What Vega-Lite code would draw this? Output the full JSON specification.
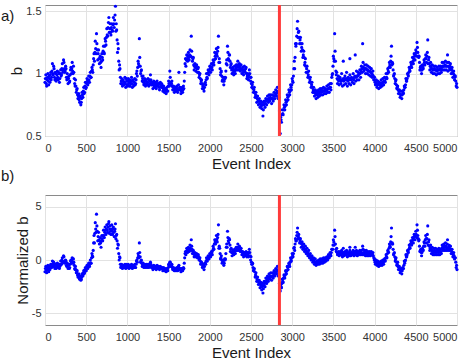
{
"$schema": "https://vega.github.io/schema/vega-lite/v6.json",
"padding": {"left": 0, "top": 3, "right": 0, "bottom": 0},
"spacing": -4,
"config": {
 "font": "Liberation Sans",
 "view": {"stroke": "#8a8a8a", "strokeWidth": 1},
 "axis": {"domain": false, "grid": true, "gridColor": "#e2e2e2", "ticks": false, "labelFontSize": 11, "labelColor": "#333333", "titleFontSize": 15, "titleFontWeight": "normal", "titleColor": "#1a1a1a", "labelFont": "Liberation Sans", "titleFont": "Liberation Sans"},
 "title": {"fontSize": 15, "fontWeight": "normal", "color": "#1a1a1a", "font": "Liberation Sans"}
},
"data": {"values": [
{"i":0,"b":0.93,"n":-1.1},{"i":10,"b":0.99,"n":-0.6},{"i":20,"b":0.90,"n":-1.2},{"i":30,"b":0.97,"n":-0.7},{"i":40,"b":0.94,"n":-0.9},{"i":50,"b":0.98,"n":-0.6},{"i":60,"b":0.93,"n":-0.9},{"i":70,"b":1.01,"n":-0.4},{"i":80,"b":0.97,"n":-0.7},{"i":90,"b":1.08,"n":-0.1},
{"i":100,"b":0.99,"n":-0.6},{"i":110,"b":1.04,"n":-0.3},{"i":120,"b":0.95,"n":-0.8},{"i":130,"b":1.00,"n":-0.4},{"i":140,"b":0.96,"n":-0.7},{"i":150,"b":1.02,"n":-0.3},{"i":160,"b":0.95,"n":-0.7},{"i":170,"b":1.00,"n":-0.4},{"i":180,"b":0.96,"n":-0.6},{"i":190,"b":1.03,"n":-0.1},
{"i":200,"b":0.99,"n":-0.4},{"i":210,"b":1.08,"n":0.2},{"i":220,"b":1.03,"n":-0.2},{"i":230,"b":1.09,"n":0.3},{"i":240,"b":1.01,"n":-0.3},{"i":250,"b":1.06,"n":0.0},{"i":260,"b":0.97,"n":-0.5},{"i":270,"b":1.00,"n":-0.3},{"i":280,"b":0.92,"n":-0.8},{"i":290,"b":0.98,"n":-0.4},
{"i":300,"b":0.94,"n":-0.7},{"i":310,"b":1.03,"n":-0.1},{"i":320,"b":1.00,"n":-0.3},{"i":330,"b":1.09,"n":0.2},{"i":340,"b":1.00,"n":-0.3},{"i":350,"b":1.01,"n":-0.2},{"i":360,"b":0.92,"n":-0.8},{"i":370,"b":0.95,"n":-0.6},{"i":380,"b":0.85,"n":-1.2},{"i":390,"b":0.88,"n":-1.0},
{"i":400,"b":0.80,"n":-1.6},{"i":410,"b":0.84,"n":-1.3},{"i":420,"b":0.77,"n":-1.8},{"i":430,"b":0.82,"n":-1.5},{"i":440,"b":0.77,"n":-1.8},{"i":450,"b":0.85,"n":-1.3},{"i":460,"b":0.81,"n":-1.5},{"i":470,"b":0.89,"n":-1.0},{"i":480,"b":0.85,"n":-1.2},{"i":490,"b":0.93,"n":-0.7},
{"i":500,"b":0.89,"n":-1.0},{"i":510,"b":0.96,"n":-0.5},{"i":520,"b":0.91,"n":-0.8},{"i":530,"b":0.98,"n":-0.3},{"i":540,"b":0.93,"n":-0.6},{"i":550,"b":1.01,"n":0.0},{"i":560,"b":0.97,"n":-0.3},{"i":570,"b":1.05,"n":0.6},{"i":580,"b":1.01,"n":0.3},{"i":590,"b":1.12,"n":1.6},
{"i":600,"b":1.10,"n":1.6},{"i":610,"b":1.26,"n":3.5},{"i":620,"b":1.16,"n":2.6},{"i":630,"b":1.24,"n":3.2},{"i":640,"b":1.11,"n":1.8},{"i":650,"b":1.19,"n":2.6},{"i":660,"b":1.08,"n":1.5},{"i":670,"b":1.14,"n":2.1},{"i":680,"b":1.05,"n":1.2},{"i":690,"b":1.16,"n":2.3},
{"i":700,"b":1.11,"n":1.8},{"i":710,"b":1.22,"n":2.8},{"i":720,"b":1.16,"n":2.1},{"i":730,"b":1.28,"n":3.1},{"i":740,"b":1.23,"n":2.4},{"i":750,"b":1.36,"n":3.3},{"i":760,"b":1.30,"n":2.6},{"i":770,"b":1.41,"n":3.4},{"i":780,"b":1.33,"n":2.5},{"i":790,"b":1.40,"n":3.2},
{"i":800,"b":1.31,"n":2.4},{"i":810,"b":1.40,"n":3.3},{"i":820,"b":1.34,"n":2.4},{"i":830,"b":1.45,"n":3.1},{"i":840,"b":1.37,"n":2.2},{"i":850,"b":1.47,"n":2.9},{"i":860,"b":1.34,"n":2.0},{"i":870,"b":1.35,"n":2.4},{"i":880,"b":1.17,"n":1.1},{"i":890,"b":1.20,"n":1.4},
{"i":900,"b":1.03,"n":0.0},{"i":910,"b":1.04,"n":0.2},{"i":920,"b":0.92,"n":-0.7},{"i":930,"b":0.96,"n":-0.4},{"i":940,"b":0.90,"n":-0.8},{"i":950,"b":0.95,"n":-0.5},{"i":960,"b":0.91,"n":-0.7},{"i":970,"b":0.97,"n":-0.4},{"i":980,"b":0.89,"n":-0.8},{"i":990,"b":0.94,"n":-0.5},
{"i":1000,"b":0.91,"n":-0.7},{"i":1010,"b":0.96,"n":-0.4},{"i":1020,"b":0.90,"n":-0.8},{"i":1030,"b":0.95,"n":-0.5},{"i":1040,"b":0.92,"n":-0.7},{"i":1050,"b":0.97,"n":-0.4},{"i":1060,"b":0.89,"n":-0.8},{"i":1070,"b":0.94,"n":-0.5},{"i":1080,"b":0.91,"n":-0.7},{"i":1090,"b":0.96,"n":-0.4},
{"i":1100,"b":0.92,"n":-0.7},{"i":1110,"b":1.00,"n":-0.1},{"i":1120,"b":0.98,"n":-0.2},{"i":1130,"b":1.10,"n":0.6},{"i":1140,"b":1.06,"n":0.2},{"i":1150,"b":1.13,"n":0.7},{"i":1160,"b":1.00,"n":-0.2},{"i":1170,"b":1.03,"n":0.0},{"i":1180,"b":0.94,"n":-0.6},{"i":1190,"b":0.98,"n":-0.3},
{"i":1200,"b":0.91,"n":-0.7},{"i":1210,"b":0.96,"n":-0.4},{"i":1220,"b":0.90,"n":-0.7},{"i":1230,"b":0.95,"n":-0.4},{"i":1240,"b":0.91,"n":-0.7},{"i":1250,"b":0.96,"n":-0.4},{"i":1260,"b":0.90,"n":-0.7},{"i":1270,"b":0.94,"n":-0.5},{"i":1280,"b":0.99,"n":-0.2},{"i":1290,"b":0.91,"n":-0.7},
{"i":1300,"b":0.93,"n":-0.6},{"i":1310,"b":0.88,"n":-0.9},{"i":1320,"b":0.94,"n":-0.5},{"i":1330,"b":0.89,"n":-0.8},{"i":1340,"b":0.93,"n":-0.6},{"i":1350,"b":0.88,"n":-0.9},{"i":1360,"b":0.94,"n":-0.5},{"i":1370,"b":0.90,"n":-0.8},{"i":1380,"b":0.92,"n":-0.6},{"i":1390,"b":0.87,"n":-0.9},
{"i":1400,"b":0.93,"n":-0.6},{"i":1410,"b":0.89,"n":-0.8},{"i":1420,"b":0.91,"n":-0.7},{"i":1430,"b":0.86,"n":-1.0},{"i":1440,"b":0.90,"n":-0.7},{"i":1450,"b":0.85,"n":-1.0},{"i":1460,"b":0.88,"n":-0.8},{"i":1470,"b":0.84,"n":-1.1},{"i":1480,"b":0.89,"n":-0.8},{"i":1490,"b":0.86,"n":-1.0},
{"i":1500,"b":0.94,"n":-0.4},{"i":1510,"b":0.90,"n":-0.6},{"i":1520,"b":0.97,"n":-0.2},{"i":1530,"b":0.91,"n":-0.6},{"i":1540,"b":0.94,"n":-0.4},{"i":1550,"b":0.87,"n":-0.9},{"i":1560,"b":0.90,"n":-0.7},{"i":1570,"b":0.85,"n":-1.0},{"i":1580,"b":0.89,"n":-0.8},{"i":1590,"b":0.86,"n":-1.0},
{"i":1600,"b":0.90,"n":-0.7},{"i":1610,"b":0.85,"n":-1.0},{"i":1620,"b":0.91,"n":-0.6},{"i":1630,"b":0.87,"n":-0.9},{"i":1640,"b":0.89,"n":-0.8},{"i":1650,"b":0.84,"n":-1.1},{"i":1660,"b":0.88,"n":-0.8},{"i":1670,"b":0.85,"n":-1.0},{"i":1680,"b":0.90,"n":-0.7},{"i":1690,"b":0.94,"n":-0.3},
{"i":1700,"b":1.08,"n":0.6},{"i":1710,"b":1.06,"n":0.5},{"i":1720,"b":1.15,"n":1.1},{"i":1730,"b":1.10,"n":0.7},{"i":1740,"b":1.17,"n":1.2},{"i":1750,"b":1.11,"n":0.8},{"i":1760,"b":1.19,"n":1.4},{"i":1770,"b":1.14,"n":0.9},{"i":1780,"b":1.18,"n":1.3},{"i":1790,"b":1.10,"n":0.6},
{"i":1800,"b":1.13,"n":0.9},{"i":1810,"b":1.03,"n":0.3},{"i":1820,"b":1.08,"n":0.7},{"i":1830,"b":1.02,"n":0.3},{"i":1840,"b":1.07,"n":0.6},{"i":1850,"b":1.01,"n":0.2},{"i":1860,"b":1.05,"n":0.5},{"i":1870,"b":0.97,"n":0.0},{"i":1880,"b":1.00,"n":0.2},{"i":1890,"b":0.92,"n":-0.4},
{"i":1900,"b":0.95,"n":-0.2},{"i":1910,"b":0.88,"n":-0.7},{"i":1920,"b":0.91,"n":-0.4},{"i":1930,"b":0.86,"n":-0.9},{"i":1940,"b":0.92,"n":-0.3},{"i":1950,"b":0.91,"n":-0.4},{"i":1960,"b":1.00,"n":0.2},{"i":1970,"b":0.96,"n":-0.1},{"i":1980,"b":1.03,"n":0.4},{"i":1990,"b":0.99,"n":0.1},
{"i":2000,"b":1.06,"n":0.6},{"i":2010,"b":1.01,"n":0.3},{"i":2020,"b":1.08,"n":0.8},{"i":2030,"b":1.03,"n":0.5},{"i":2040,"b":1.11,"n":1.3},{"i":2050,"b":1.07,"n":1.0},{"i":2060,"b":1.17,"n":1.9},{"i":2070,"b":1.12,"n":1.5},{"i":2080,"b":1.20,"n":2.3},{"i":2090,"b":1.14,"n":1.7},
{"i":2100,"b":1.21,"n":2.4},{"i":2110,"b":1.09,"n":1.1},{"i":2120,"b":1.09,"n":1.1},{"i":2130,"b":0.99,"n":0.1},{"i":2140,"b":1.02,"n":0.4},{"i":2150,"b":0.94,"n":-0.3},{"i":2160,"b":0.97,"n":0.0},{"i":2170,"b":0.91,"n":-0.5},{"i":2180,"b":0.97,"n":0.1},{"i":2190,"b":0.97,"n":0.1},
{"i":2200,"b":1.08,"n":1.2},{"i":2210,"b":1.07,"n":1.2},{"i":2220,"b":1.17,"n":2.1},{"i":2230,"b":1.11,"n":1.6},{"i":2240,"b":1.15,"n":1.9},{"i":2250,"b":1.05,"n":0.8},{"i":2260,"b":1.08,"n":1.1},{"i":2270,"b":1.00,"n":0.4},{"i":2280,"b":1.05,"n":0.9},{"i":2290,"b":0.99,"n":0.5},
{"i":2300,"b":1.06,"n":1.0},{"i":2310,"b":1.00,"n":0.6},{"i":2320,"b":1.07,"n":1.2},{"i":2330,"b":1.03,"n":0.9},{"i":2340,"b":1.10,"n":1.5},{"i":2350,"b":1.03,"n":0.9},{"i":2360,"b":1.08,"n":1.3},{"i":2370,"b":1.02,"n":0.8},{"i":2380,"b":1.07,"n":1.1},{"i":2390,"b":1.00,"n":0.5},
{"i":2400,"b":1.05,"n":0.8},{"i":2410,"b":0.99,"n":0.3},{"i":2420,"b":1.06,"n":0.7},{"i":2430,"b":1.01,"n":0.4},{"i":2440,"b":1.05,"n":0.8},{"i":2450,"b":0.96,"n":0.3},{"i":2460,"b":1.00,"n":0.7},{"i":2470,"b":0.95,"n":0.3},{"i":2480,"b":1.03,"n":1.0},{"i":2490,"b":0.97,"n":0.4},
{"i":2500,"b":0.97,"n":0.3},{"i":2510,"b":0.89,"n":-0.4},{"i":2520,"b":0.93,"n":-0.3},{"i":2530,"b":0.85,"n":-1.0},{"i":2540,"b":0.89,"n":-0.8},{"i":2550,"b":0.81,"n":-1.6},{"i":2560,"b":0.85,"n":-1.2},{"i":2570,"b":0.77,"n":-2.0},{"i":2580,"b":0.82,"n":-1.6},{"i":2590,"b":0.75,"n":-2.3},
{"i":2600,"b":0.80,"n":-1.9},{"i":2610,"b":0.73,"n":-2.6},{"i":2620,"b":0.78,"n":-2.1},{"i":2630,"b":0.72,"n":-2.8},{"i":2640,"b":0.77,"n":-2.2},{"i":2650,"b":0.71,"n":-2.7},{"i":2660,"b":0.78,"n":-2.0},{"i":2670,"b":0.73,"n":-2.5},{"i":2680,"b":0.80,"n":-1.7},{"i":2690,"b":0.75,"n":-2.2},
{"i":2700,"b":0.82,"n":-1.5},{"i":2710,"b":0.77,"n":-2.0},{"i":2720,"b":0.83,"n":-1.3},{"i":2730,"b":0.78,"n":-1.8},{"i":2740,"b":0.83,"n":-1.2},{"i":2750,"b":0.76,"n":-1.9},{"i":2760,"b":0.83,"n":-1.2},{"i":2770,"b":0.78,"n":-1.7},{"i":2780,"b":0.85,"n":-1.0},{"i":2790,"b":0.80,"n":-1.5},
{"i":2800,"b":0.87,"n":-0.8},{"i":2810,"b":0.82,"n":-1.3},{"i":2820,"b":0.89,"n":-0.6},{"i":2830,"b":0.80,"n":-1.5},{"i":2840,"b":0.81,"n":-1.4},{"i":2850,"b":0.62,"n":-2.7},{"i":2860,"b":0.65,"n":-2.3},{"i":2870,"b":0.61,"n":-2.6},{"i":2880,"b":0.71,"n":-1.8},{"i":2890,"b":0.67,"n":-2.1},
{"i":2900,"b":0.75,"n":-1.4},{"i":2910,"b":0.71,"n":-1.7},{"i":2920,"b":0.79,"n":-1.0},{"i":2930,"b":0.75,"n":-1.3},{"i":2940,"b":0.83,"n":-0.6},{"i":2950,"b":0.79,"n":-0.9},{"i":2960,"b":0.87,"n":-0.3},{"i":2970,"b":0.83,"n":-0.6},{"i":2980,"b":0.91,"n":0.2},{"i":2990,"b":0.87,"n":-0.1},
{"i":3000,"b":0.96,"n":0.6},{"i":3010,"b":0.93,"n":0.3},{"i":3020,"b":1.04,"n":1.1},{"i":3030,"b":1.04,"n":0.9},{"i":3040,"b":1.24,"n":2.0},{"i":3050,"b":1.24,"n":1.8},{"i":3060,"b":1.36,"n":2.6},{"i":3070,"b":1.29,"n":2.0},{"i":3080,"b":1.34,"n":2.4},{"i":3090,"b":1.24,"n":1.6},
{"i":3100,"b":1.29,"n":2.0},{"i":3110,"b":1.18,"n":1.2},{"i":3120,"b":1.24,"n":1.7},{"i":3130,"b":1.13,"n":1.0},{"i":3140,"b":1.18,"n":1.5},{"i":3150,"b":1.07,"n":0.8},{"i":3160,"b":1.12,"n":1.3},{"i":3170,"b":1.01,"n":0.6},{"i":3180,"b":1.06,"n":1.1},{"i":3190,"b":0.97,"n":0.4},
{"i":3200,"b":1.02,"n":0.9},{"i":3210,"b":0.93,"n":0.2},{"i":3220,"b":0.97,"n":0.6},{"i":3230,"b":0.89,"n":0.0},{"i":3240,"b":0.93,"n":0.4},{"i":3250,"b":0.85,"n":-0.2},{"i":3260,"b":0.89,"n":0.2},{"i":3270,"b":0.82,"n":-0.4},{"i":3280,"b":0.87,"n":0.1},{"i":3290,"b":0.80,"n":-0.5},
{"i":3300,"b":0.86,"n":-0.1},{"i":3310,"b":0.81,"n":-0.4},{"i":3320,"b":0.87,"n":0.0},{"i":3330,"b":0.82,"n":-0.4},{"i":3340,"b":0.88,"n":0.1},{"i":3350,"b":0.83,"n":-0.3},{"i":3360,"b":0.88,"n":0.1},{"i":3370,"b":0.83,"n":-0.3},{"i":3380,"b":0.89,"n":0.2},{"i":3390,"b":0.84,"n":-0.2},
{"i":3400,"b":0.88,"n":0.2},{"i":3410,"b":0.84,"n":-0.1},{"i":3420,"b":0.90,"n":0.3},{"i":3430,"b":0.85,"n":0.0},{"i":3440,"b":0.91,"n":0.5},{"i":3450,"b":0.85,"n":0.2},{"i":3460,"b":0.92,"n":0.7},{"i":3470,"b":0.87,"n":0.4},{"i":3480,"b":0.97,"n":1.0},{"i":3490,"b":1.00,"n":1.0},
{"i":3500,"b":1.14,"n":1.9},{"i":3510,"b":1.10,"n":1.4},{"i":3520,"b":1.18,"n":2.2},{"i":3530,"b":1.02,"n":1.0},{"i":3540,"b":1.01,"n":1.1},{"i":3550,"b":0.92,"n":0.5},{"i":3560,"b":0.98,"n":0.8},{"i":3570,"b":0.91,"n":0.4},{"i":3580,"b":0.97,"n":0.8},{"i":3590,"b":0.92,"n":0.5},
{"i":3600,"b":1.00,"n":0.9},{"i":3610,"b":0.90,"n":0.3},{"i":3620,"b":0.96,"n":0.7},{"i":3630,"b":0.91,"n":0.4},{"i":3640,"b":0.98,"n":0.8},{"i":3650,"b":0.92,"n":0.5},{"i":3660,"b":1.01,"n":0.9},{"i":3670,"b":0.90,"n":0.3},{"i":3680,"b":0.97,"n":0.7},{"i":3690,"b":0.92,"n":0.4},
{"i":3700,"b":0.99,"n":0.9},{"i":3710,"b":0.91,"n":0.4},{"i":3720,"b":0.97,"n":0.7},{"i":3730,"b":0.93,"n":0.5},{"i":3740,"b":1.00,"n":0.9},{"i":3750,"b":0.92,"n":0.4},{"i":3760,"b":0.98,"n":0.8},{"i":3770,"b":0.94,"n":0.5},{"i":3780,"b":1.02,"n":0.9},{"i":3790,"b":0.95,"n":0.4},
{"i":3800,"b":1.01,"n":0.8},{"i":3810,"b":0.95,"n":0.5},{"i":3820,"b":1.03,"n":0.9},{"i":3830,"b":0.97,"n":0.5},{"i":3840,"b":1.06,"n":0.9},{"i":3850,"b":1.01,"n":0.5},{"i":3860,"b":1.09,"n":1.0},{"i":3870,"b":1.02,"n":0.5},{"i":3880,"b":1.07,"n":0.9},{"i":3890,"b":1.00,"n":0.4},
{"i":3900,"b":1.07,"n":0.9},{"i":3910,"b":1.00,"n":0.4},{"i":3920,"b":1.06,"n":0.8},{"i":3930,"b":0.99,"n":0.4},{"i":3940,"b":1.05,"n":0.8},{"i":3950,"b":0.98,"n":0.4},{"i":3960,"b":1.04,"n":0.8},{"i":3970,"b":0.97,"n":0.5},{"i":3980,"b":1.02,"n":0.7},{"i":3990,"b":0.95,"n":0.2},
{"i":4000,"b":0.97,"n":0.1},{"i":4010,"b":0.91,"n":-0.4},{"i":4020,"b":0.95,"n":0.0},{"i":4030,"b":0.89,"n":-0.5},{"i":4040,"b":0.94,"n":-0.1},{"i":4050,"b":0.88,"n":-0.6},{"i":4060,"b":0.93,"n":-0.2},{"i":4070,"b":0.89,"n":-0.5},{"i":4080,"b":0.95,"n":-0.1},{"i":4090,"b":0.90,"n":-0.5},
{"i":4100,"b":0.96,"n":0.0},{"i":4110,"b":0.91,"n":-0.4},{"i":4120,"b":0.97,"n":0.1},{"i":4130,"b":0.93,"n":-0.1},{"i":4140,"b":1.00,"n":0.5},{"i":4150,"b":0.96,"n":0.2},{"i":4160,"b":1.04,"n":0.9},{"i":4170,"b":1.01,"n":0.7},{"i":4180,"b":1.09,"n":1.5},{"i":4190,"b":1.05,"n":1.2},
{"i":4200,"b":1.14,"n":2.2},{"i":4210,"b":1.07,"n":1.5},{"i":4220,"b":1.08,"n":1.5},{"i":4230,"b":0.98,"n":0.5},{"i":4240,"b":1.00,"n":0.7},{"i":4250,"b":0.92,"n":-0.1},{"i":4260,"b":0.95,"n":0.2},{"i":4270,"b":0.88,"n":-0.5},{"i":4280,"b":0.90,"n":-0.2},{"i":4290,"b":0.84,"n":-0.9},
{"i":4300,"b":0.87,"n":-0.6},{"i":4310,"b":0.81,"n":-1.2},{"i":4320,"b":0.86,"n":-0.8},{"i":4330,"b":0.80,"n":-1.3},{"i":4340,"b":0.86,"n":-0.7},{"i":4350,"b":0.84,"n":-0.8},{"i":4360,"b":0.90,"n":-0.1},{"i":4370,"b":0.89,"n":-0.1},{"i":4380,"b":0.96,"n":0.5},{"i":4390,"b":0.94,"n":0.3},
{"i":4400,"b":1.00,"n":0.9},{"i":4410,"b":0.98,"n":0.7},{"i":4420,"b":1.05,"n":1.4},{"i":4430,"b":1.02,"n":1.1},{"i":4440,"b":1.09,"n":1.8},{"i":4450,"b":1.05,"n":1.4},{"i":4460,"b":1.13,"n":2.1},{"i":4470,"b":1.08,"n":1.6},{"i":4480,"b":1.16,"n":2.4},{"i":4490,"b":1.11,"n":1.9},
{"i":4500,"b":1.19,"n":2.7},{"i":4510,"b":1.14,"n":2.1},{"i":4520,"b":1.21,"n":2.8},{"i":4530,"b":1.14,"n":2.0},{"i":4540,"b":1.14,"n":1.9},{"i":4550,"b":1.03,"n":0.8},{"i":4560,"b":1.06,"n":1.0},{"i":4570,"b":1.00,"n":0.4},{"i":4580,"b":1.07,"n":1.1},{"i":4590,"b":1.04,"n":0.9},
{"i":4600,"b":1.11,"n":1.7},{"i":4610,"b":1.07,"n":1.3},{"i":4620,"b":1.15,"n":2.3},{"i":4630,"b":1.09,"n":1.6},{"i":4640,"b":1.17,"n":2.4},{"i":4650,"b":1.08,"n":1.4},{"i":4660,"b":1.13,"n":1.9},{"i":4670,"b":1.03,"n":0.9},{"i":4680,"b":1.09,"n":1.4},{"i":4690,"b":1.01,"n":0.6},
{"i":4700,"b":1.07,"n":1.2},{"i":4710,"b":1.00,"n":0.5},{"i":4720,"b":1.06,"n":1.1},{"i":4730,"b":1.00,"n":0.5},{"i":4740,"b":1.06,"n":1.1},{"i":4750,"b":0.99,"n":0.5},{"i":4760,"b":1.05,"n":1.0},{"i":4770,"b":1.00,"n":0.5},{"i":4780,"b":1.06,"n":1.1},{"i":4790,"b":1.00,"n":0.5},
{"i":4800,"b":1.06,"n":1.0},{"i":4810,"b":1.01,"n":0.6},{"i":4820,"b":1.09,"n":1.4},{"i":4830,"b":1.03,"n":0.9},{"i":4840,"b":1.09,"n":1.5},{"i":4850,"b":1.03,"n":0.9},{"i":4860,"b":1.10,"n":1.6},{"i":4870,"b":1.03,"n":0.9},{"i":4880,"b":1.09,"n":1.5},{"i":4890,"b":1.02,"n":0.9},
{"i":4900,"b":1.09,"n":1.4},{"i":4910,"b":1.03,"n":0.9},{"i":4920,"b":1.08,"n":1.3},{"i":4930,"b":1.00,"n":0.6},{"i":4940,"b":1.05,"n":1.0},{"i":4950,"b":0.97,"n":0.3},{"i":4960,"b":1.02,"n":0.7},{"i":4970,"b":0.95,"n":0.1},{"i":4980,"b":0.98,"n":0.2},{"i":4990,"b":0.90,"n":-0.7},
{"i":5000,"b":0.89,"n":-0.9},
{"i":625,"b":1.32,"n":4.3},{"i":855,"b":1.54,"n":3.4},{"i":775,"b":1.45,"n":3.6},{"i":1145,"b":1.28,"n":1.6},{"i":1775,"b":1.30,"n":1.9},{"i":2105,"b":1.30,"n":3.3},{"i":2215,"b":1.22,"n":2.7},{"i":3065,"b":1.42,"n":3.0},{"i":3515,"b":1.32,"n":2.8},{"i":3855,"b":1.24,"n":1.3},{"i":4205,"b":1.22,"n":3.0},{"i":4515,"b":1.25,"n":3.3},{"i":4645,"b":1.27,"n":3.2},{"i":2645,"b":0.66,"n":-3.1},{"i":2855,"b":0.52,"n":-2.9},{"i":435,"b":0.75,"n":-1.9},{"i":1625,"b":1.01,"n":-0.5},{"i":1515,"b":1.02,"n":-0.2},{"i":3700,"b":1.12,"n":1.2},{"i":3620,"b":1.10,"n":1.1},{"i":3765,"b":1.15,"n":1.2},{"i":4885,"b":1.15,"n":1.9},
{"i":5,"b":0.96,"n":-0.8},{"i":15,"b":0.92,"n":-1.0},{"i":25,"b":0.95,"n":-0.9},{"i":35,"b":1.00,"n":-0.5},{"i":45,"b":0.91,"n":-1.1},{"i":55,"b":0.96,"n":-0.8},{"i":65,"b":0.99,"n":-0.6},{"i":75,"b":0.95,"n":-0.7},{"i":85,"b":1.02,"n":-0.4},{"i":95,"b":1.00,"n":-0.5},
{"i":105,"b":1.06,"n":-0.2},{"i":115,"b":0.97,"n":-0.6},{"i":125,"b":1.01,"n":-0.4},{"i":135,"b":0.94,"n":-0.8},{"i":145,"b":0.99,"n":-0.5},{"i":155,"b":0.97,"n":-0.6},{"i":165,"b":1.01,"n":-0.4},{"i":175,"b":0.93,"n":-0.8},{"i":185,"b":1.00,"n":-0.5},{"i":195,"b":0.98,"n":-0.4},
{"i":205,"b":1.04,"n":0.0},{"i":215,"b":1.01,"n":-0.2},{"i":225,"b":1.11,"n":0.4},{"i":235,"b":1.04,"n":-0.1},{"i":245,"b":1.02,"n":-0.2},{"i":255,"b":1.04,"n":-0.1},{"i":265,"b":0.95,"n":-0.6},{"i":275,"b":0.97,"n":-0.5},{"i":285,"b":0.96,"n":-0.5},{"i":295,"b":0.93,"n":-0.8},
{"i":305,"b":0.99,"n":-0.4},{"i":315,"b":1.05,"n":0.0},{"i":325,"b":1.04,"n":-0.1},{"i":335,"b":1.02,"n":-0.2},{"i":345,"b":1.06,"n":0.1},{"i":355,"b":0.96,"n":-0.5},{"i":365,"b":0.90,"n":-0.9},{"i":375,"b":0.90,"n":-0.9},{"i":385,"b":0.87,"n":-1.1},{"i":395,"b":0.83,"n":-1.4},
{"i":405,"b":0.82,"n":-1.4},{"i":415,"b":0.79,"n":-1.7},{"i":425,"b":0.81,"n":-1.5},{"i":445,"b":0.80,"n":-1.6},{"i":455,"b":0.83,"n":-1.4},{"i":465,"b":0.86,"n":-1.2},{"i":475,"b":0.84,"n":-1.3},{"i":485,"b":0.90,"n":-0.9},{"i":495,"b":0.88,"n":-1.0},
{"i":505,"b":0.92,"n":-0.7},{"i":515,"b":0.94,"n":-0.6},{"i":525,"b":0.93,"n":-0.6},{"i":535,"b":0.95,"n":-0.5},{"i":545,"b":0.98,"n":-0.3},{"i":555,"b":0.97,"n":-0.3},{"i":565,"b":1.02,"n":0.2},{"i":575,"b":1.03,"n":0.4},{"i":585,"b":1.07,"n":0.9},{"i":595,"b":1.16,"n":2.3},
{"i":605,"b":1.17,"n":2.5},{"i":615,"b":1.20,"n":2.9},{"i":635,"b":1.19,"n":2.7},{"i":645,"b":1.16,"n":2.2},{"i":655,"b":1.12,"n":1.9},{"i":665,"b":1.12,"n":1.8},{"i":675,"b":1.09,"n":1.6},{"i":685,"b":1.10,"n":1.8},{"i":695,"b":1.13,"n":2.0},
{"i":705,"b":1.18,"n":2.3},{"i":715,"b":1.17,"n":2.3},{"i":725,"b":1.22,"n":2.6},{"i":735,"b":1.26,"n":2.8},{"i":745,"b":1.29,"n":2.9},{"i":755,"b":1.31,"n":2.8},{"i":765,"b":1.37,"n":3.1},{"i":785,"b":1.36,"n":2.9},{"i":795,"b":1.33,"n":2.7},
{"i":805,"b":1.37,"n":2.9},{"i":815,"b":1.35,"n":2.7},{"i":825,"b":1.39,"n":2.9},{"i":835,"b":1.40,"n":2.6},{"i":845,"b":1.43,"n":2.7},{"i":865,"b":1.40,"n":2.3},{"i":875,"b":1.27,"n":1.8},{"i":885,"b":1.24,"n":1.5},{"i":895,"b":1.10,"n":0.6},
{"i":905,"b":1.07,"n":0.3},{"i":915,"b":0.97,"n":-0.4},{"i":925,"b":0.94,"n":-0.6},{"i":935,"b":0.92,"n":-0.6},{"i":945,"b":0.94,"n":-0.5},{"i":955,"b":0.91,"n":-0.7},{"i":965,"b":0.93,"n":-0.6},{"i":975,"b":0.92,"n":-0.6},{"i":985,"b":0.96,"n":-0.4},{"i":995,"b":0.90,"n":-0.7},
{"i":1005,"b":0.94,"n":-0.5},{"i":1015,"b":0.92,"n":-0.7},{"i":1025,"b":0.93,"n":-0.6},{"i":1035,"b":0.90,"n":-0.7},{"i":1045,"b":0.94,"n":-0.5},{"i":1055,"b":0.92,"n":-0.6},{"i":1065,"b":0.95,"n":-0.5},{"i":1075,"b":0.90,"n":-0.7},{"i":1085,"b":0.93,"n":-0.6},{"i":1095,"b":0.91,"n":-0.7},
{"i":1105,"b":0.95,"n":-0.4},{"i":1115,"b":1.02,"n":0.0},{"i":1125,"b":1.05,"n":0.2},{"i":1135,"b":1.08,"n":0.4},{"i":1155,"b":1.06,"n":0.3},{"i":1165,"b":1.02,"n":-0.1},{"i":1175,"b":0.98,"n":-0.3},{"i":1185,"b":0.96,"n":-0.4},{"i":1195,"b":0.93,"n":-0.6},
{"i":1205,"b":0.94,"n":-0.5},{"i":1215,"b":0.92,"n":-0.6},{"i":1225,"b":0.94,"n":-0.5},{"i":1235,"b":0.92,"n":-0.6},{"i":1245,"b":0.93,"n":-0.6},{"i":1255,"b":0.91,"n":-0.6},{"i":1265,"b":0.95,"n":-0.4},{"i":1275,"b":0.92,"n":-0.6},{"i":1285,"b":0.95,"n":-0.4},{"i":1295,"b":0.93,"n":-0.6},
{"i":1305,"b":0.91,"n":-0.7},{"i":1315,"b":0.92,"n":-0.7},{"i":1325,"b":0.90,"n":-0.7},{"i":1335,"b":0.92,"n":-0.6},{"i":1345,"b":0.91,"n":-0.7},{"i":1355,"b":0.90,"n":-0.8},{"i":1365,"b":0.92,"n":-0.7},{"i":1375,"b":0.91,"n":-0.7},{"i":1385,"b":0.89,"n":-0.8},{"i":1395,"b":0.92,"n":-0.7},
{"i":1405,"b":0.90,"n":-0.7},{"i":1415,"b":0.92,"n":-0.7},{"i":1425,"b":0.89,"n":-0.8},{"i":1435,"b":0.88,"n":-0.9},{"i":1445,"b":0.87,"n":-0.9},{"i":1455,"b":0.88,"n":-0.9},{"i":1465,"b":0.86,"n":-0.9},{"i":1475,"b":0.87,"n":-0.9},{"i":1485,"b":0.86,"n":-0.9},{"i":1495,"b":0.90,"n":-0.7},
{"i":1505,"b":0.92,"n":-0.5},{"i":1525,"b":0.93,"n":-0.5},{"i":1535,"b":0.92,"n":-0.5},{"i":1545,"b":0.90,"n":-0.7},{"i":1555,"b":0.89,"n":-0.8},{"i":1565,"b":0.87,"n":-0.9},{"i":1575,"b":0.88,"n":-0.9},{"i":1585,"b":0.87,"n":-0.9},{"i":1595,"b":0.88,"n":-0.8},
{"i":1605,"b":0.88,"n":-0.9},{"i":1615,"b":0.87,"n":-0.9},{"i":1635,"b":0.89,"n":-0.8},{"i":1645,"b":0.87,"n":-0.9},{"i":1655,"b":0.86,"n":-1.0},{"i":1665,"b":0.89,"n":-0.8},{"i":1675,"b":0.87,"n":-0.9},{"i":1685,"b":0.88,"n":-0.8},{"i":1695,"b":1.01,"n":0.2},
{"i":1705,"b":1.12,"n":0.8},{"i":1715,"b":1.11,"n":0.8},{"i":1725,"b":1.12,"n":0.9},{"i":1735,"b":1.14,"n":1.0},{"i":1745,"b":1.13,"n":0.9},{"i":1755,"b":1.15,"n":1.0},{"i":1765,"b":1.14,"n":1.1},{"i":1785,"b":1.13,"n":1.0},{"i":1795,"b":1.12,"n":0.8},
{"i":1805,"b":1.07,"n":0.6},{"i":1815,"b":1.06,"n":0.5},{"i":1825,"b":1.05,"n":0.5},{"i":1835,"b":1.05,"n":0.5},{"i":1845,"b":1.04,"n":0.4},{"i":1855,"b":1.04,"n":0.4},{"i":1865,"b":1.01,"n":0.3},{"i":1875,"b":0.99,"n":0.1},{"i":1885,"b":0.96,"n":-0.1},{"i":1895,"b":0.94,"n":-0.3},
{"i":1905,"b":0.92,"n":-0.4},{"i":1915,"b":0.90,"n":-0.6},{"i":1925,"b":0.88,"n":-0.6},{"i":1935,"b":0.89,"n":-0.6},{"i":1945,"b":0.93,"n":-0.3},{"i":1955,"b":0.95,"n":-0.1},{"i":1965,"b":0.97,"n":0.0},{"i":1975,"b":1.00,"n":0.2},{"i":1985,"b":1.01,"n":0.3},{"i":1995,"b":1.02,"n":0.3},
{"i":2005,"b":1.04,"n":0.5},{"i":2015,"b":1.05,"n":0.6},{"i":2025,"b":1.05,"n":0.7},{"i":2035,"b":1.07,"n":0.9},{"i":2045,"b":1.09,"n":1.1},{"i":2055,"b":1.11,"n":1.5},{"i":2065,"b":1.14,"n":1.7},{"i":2075,"b":1.16,"n":1.9},{"i":2085,"b":1.16,"n":1.9},{"i":2095,"b":1.18,"n":2.1},
{"i":2115,"b":1.12,"n":1.3},{"i":2125,"b":1.04,"n":0.6},{"i":2135,"b":1.01,"n":0.2},{"i":2145,"b":0.98,"n":0.0},{"i":2155,"b":0.95,"n":-0.2},{"i":2165,"b":0.94,"n":-0.2},{"i":2175,"b":0.94,"n":-0.3},{"i":2185,"b":0.96,"n":0.0},{"i":2195,"b":1.02,"n":0.6},
{"i":2205,"b":1.11,"n":1.5},{"i":2225,"b":1.12,"n":1.8},{"i":2235,"b":1.15,"n":2.0},{"i":2245,"b":1.10,"n":1.4},{"i":2255,"b":1.07,"n":1.0},{"i":2265,"b":1.03,"n":0.7},{"i":2275,"b":1.04,"n":0.7},{"i":2285,"b":1.01,"n":0.6},{"i":2295,"b":1.03,"n":0.8},
{"i":2305,"b":1.02,"n":0.8},{"i":2315,"b":1.04,"n":0.9},{"i":2325,"b":1.05,"n":1.0},{"i":2335,"b":1.07,"n":1.2},{"i":2345,"b":1.06,"n":1.2},{"i":2355,"b":1.05,"n":1.1},{"i":2365,"b":1.06,"n":1.0},{"i":2375,"b":1.04,"n":0.9},{"i":2385,"b":1.03,"n":0.8},{"i":2395,"b":1.03,"n":0.7},
{"i":2405,"b":1.01,"n":0.5},{"i":2415,"b":1.03,"n":0.5},{"i":2425,"b":1.02,"n":0.5},{"i":2435,"b":1.04,"n":0.7},{"i":2445,"b":1.00,"n":0.5},{"i":2455,"b":0.98,"n":0.5},{"i":2465,"b":0.97,"n":0.5},{"i":2475,"b":0.99,"n":0.7},{"i":2485,"b":1.00,"n":0.7},{"i":2495,"b":0.94,"n":0.0},
{"i":2505,"b":0.92,"n":-0.2},{"i":2515,"b":0.91,"n":-0.4},{"i":2525,"b":0.88,"n":-0.7},{"i":2535,"b":0.87,"n":-0.9},{"i":2545,"b":0.85,"n":-1.1},{"i":2555,"b":0.83,"n":-1.4},{"i":2565,"b":0.81,"n":-1.6},{"i":2575,"b":0.80,"n":-1.8},{"i":2585,"b":0.78,"n":-1.9},{"i":2595,"b":0.78,"n":-2.1},
{"i":2605,"b":0.76,"n":-2.2},{"i":2615,"b":0.76,"n":-2.3},{"i":2625,"b":0.74,"n":-2.4},{"i":2635,"b":0.75,"n":-2.5},{"i":2655,"b":0.75,"n":-2.4},{"i":2665,"b":0.76,"n":-2.2},{"i":2675,"b":0.76,"n":-2.1},{"i":2685,"b":0.78,"n":-2.0},{"i":2695,"b":0.79,"n":-1.8},
{"i":2705,"b":0.79,"n":-1.7},{"i":2715,"b":0.80,"n":-1.7},{"i":2725,"b":0.80,"n":-1.6},{"i":2735,"b":0.81,"n":-1.5},{"i":2745,"b":0.80,"n":-1.5},{"i":2755,"b":0.80,"n":-1.6},{"i":2765,"b":0.80,"n":-1.5},{"i":2775,"b":0.82,"n":-1.3},{"i":2785,"b":0.82,"n":-1.3},{"i":2795,"b":0.84,"n":-1.1},
{"i":2805,"b":0.84,"n":-1.1},{"i":2815,"b":0.86,"n":-0.9},{"i":2825,"b":0.85,"n":-1.0},{"i":2835,"b":0.84,"n":-1.1},{"i":2845,"b":0.70,"n":-2.2},{"i":2865,"b":0.63,"n":-2.5},{"i":2875,"b":0.67,"n":-2.2},{"i":2885,"b":0.68,"n":-2.0},{"i":2895,"b":0.71,"n":-1.7},
{"i":2905,"b":0.73,"n":-1.5},{"i":2915,"b":0.74,"n":-1.4},{"i":2925,"b":0.77,"n":-1.1},{"i":2935,"b":0.78,"n":-1.0},{"i":2945,"b":0.81,"n":-0.7},{"i":2955,"b":0.82,"n":-0.6},{"i":2965,"b":0.85,"n":-0.4},{"i":2975,"b":0.86,"n":-0.2},{"i":2985,"b":0.89,"n":0.0},{"i":2995,"b":0.91,"n":0.2},
{"i":3005,"b":0.94,"n":0.4},{"i":3015,"b":0.98,"n":0.6},{"i":3025,"b":1.10,"n":1.2},{"i":3035,"b":1.13,"n":1.5},{"i":3045,"b":1.22,"n":1.8},{"i":3055,"b":1.30,"n":2.3},{"i":3075,"b":1.33,"n":2.2},{"i":3085,"b":1.29,"n":2.0},{"i":3095,"b":1.27,"n":1.8},
{"i":3105,"b":1.24,"n":1.6},{"i":3115,"b":1.21,"n":1.5},{"i":3125,"b":1.19,"n":1.3},{"i":3135,"b":1.15,"n":1.2},{"i":3145,"b":1.13,"n":1.1},{"i":3155,"b":1.09,"n":1.0},{"i":3165,"b":1.06,"n":0.9},{"i":3175,"b":1.04,"n":0.8},{"i":3185,"b":1.01,"n":0.7},{"i":3195,"b":0.99,"n":0.6},
{"i":3205,"b":0.97,"n":0.5},{"i":3215,"b":0.95,"n":0.4},{"i":3225,"b":0.93,"n":0.3},{"i":3235,"b":0.91,"n":0.2},{"i":3245,"b":0.89,"n":0.1},{"i":3255,"b":0.87,"n":0.0},{"i":3265,"b":0.85,"n":-0.1},{"i":3275,"b":0.85,"n":-0.2},{"i":3285,"b":0.83,"n":-0.3},{"i":3295,"b":0.84,"n":-0.3},
{"i":3305,"b":0.83,"n":-0.2},{"i":3315,"b":0.85,"n":-0.2},{"i":3325,"b":0.84,"n":-0.2},{"i":3335,"b":0.85,"n":-0.1},{"i":3345,"b":0.86,"n":-0.1},{"i":3355,"b":0.85,"n":-0.1},{"i":3365,"b":0.86,"n":0.0},{"i":3375,"b":0.86,"n":-0.1},{"i":3385,"b":0.86,"n":0.0},{"i":3395,"b":0.87,"n":0.0},
{"i":3405,"b":0.86,"n":0.1},{"i":3415,"b":0.87,"n":0.1},{"i":3425,"b":0.87,"n":0.1},{"i":3435,"b":0.88,"n":0.3},{"i":3445,"b":0.88,"n":0.3},{"i":3455,"b":0.89,"n":0.4},{"i":3465,"b":0.89,"n":0.5},{"i":3475,"b":0.92,"n":0.7},{"i":3485,"b":0.99,"n":1.0},{"i":3495,"b":1.06,"n":1.4},
{"i":3505,"b":1.12,"n":1.7},{"i":3525,"b":1.10,"n":1.5},{"i":3535,"b":0.99,"n":0.8},{"i":3545,"b":0.96,"n":0.7},{"i":3555,"b":0.95,"n":0.6},{"i":3565,"b":0.94,"n":0.5},{"i":3575,"b":0.96,"n":0.7},{"i":3585,"b":0.95,"n":0.6},{"i":3595,"b":0.94,"n":0.5},
{"i":3605,"b":0.95,"n":0.7},{"i":3615,"b":0.95,"n":0.6},{"i":3625,"b":0.94,"n":0.5},{"i":3635,"b":0.96,"n":0.7},{"i":3645,"b":0.95,"n":0.6},{"i":3655,"b":0.96,"n":0.5},{"i":3665,"b":0.95,"n":0.7},{"i":3675,"b":0.94,"n":0.6},{"i":3685,"b":0.96,"n":0.5},{"i":3695,"b":0.95,"n":0.7},
{"i":3705,"b":0.96,"n":0.6},{"i":3715,"b":0.95,"n":0.5},{"i":3725,"b":0.96,"n":0.7},{"i":3735,"b":0.96,"n":0.6},{"i":3745,"b":0.95,"n":0.5},{"i":3755,"b":0.97,"n":0.7},{"i":3775,"b":0.97,"n":0.7},{"i":3785,"b":0.98,"n":0.6},{"i":3795,"b":0.98,"n":0.6},
{"i":3805,"b":0.99,"n":0.7},{"i":3815,"b":1.00,"n":0.6},{"i":3825,"b":1.00,"n":0.7},{"i":3835,"b":1.02,"n":0.7},{"i":3845,"b":1.04,"n":0.6},{"i":3865,"b":1.05,"n":0.7},{"i":3875,"b":1.04,"n":0.6},{"i":3885,"b":1.04,"n":0.7},{"i":3895,"b":1.04,"n":0.6},
{"i":3905,"b":1.03,"n":0.6},{"i":3915,"b":1.03,"n":0.7},{"i":3925,"b":1.02,"n":0.6},{"i":3935,"b":1.02,"n":0.5},{"i":3945,"b":1.02,"n":0.6},{"i":3955,"b":1.01,"n":0.6},{"i":3965,"b":1.00,"n":0.6},{"i":3975,"b":0.99,"n":0.5},{"i":3985,"b":0.98,"n":0.4},{"i":3995,"b":0.95,"n":0.0},
{"i":4005,"b":0.93,"n":-0.2},{"i":4015,"b":0.93,"n":-0.2},{"i":4025,"b":0.92,"n":-0.3},{"i":4035,"b":0.91,"n":-0.3},{"i":4045,"b":0.92,"n":-0.4},{"i":4055,"b":0.91,"n":-0.4},{"i":4065,"b":0.91,"n":-0.3},{"i":4075,"b":0.92,"n":-0.3},{"i":4085,"b":0.92,"n":-0.3},{"i":4095,"b":0.93,"n":-0.2},
{"i":4105,"b":0.93,"n":-0.2},{"i":4115,"b":0.94,"n":-0.1},{"i":4125,"b":0.94,"n":0.0},{"i":4135,"b":0.96,"n":0.2},{"i":4145,"b":0.97,"n":0.3},{"i":4155,"b":1.00,"n":0.6},{"i":4165,"b":1.02,"n":0.8},{"i":4175,"b":1.05,"n":1.1},{"i":4185,"b":1.07,"n":1.3},{"i":4195,"b":1.10,"n":1.7},
{"i":4215,"b":1.09,"n":1.6},{"i":4225,"b":1.03,"n":1.0},{"i":4235,"b":0.99,"n":0.6},{"i":4245,"b":0.96,"n":0.3},{"i":4255,"b":0.94,"n":0.1},{"i":4265,"b":0.91,"n":-0.2},{"i":4275,"b":0.89,"n":-0.4},{"i":4285,"b":0.87,"n":-0.6},{"i":4295,"b":0.86,"n":-0.7},
{"i":4305,"b":0.84,"n":-0.9},{"i":4315,"b":0.83,"n":-1.0},{"i":4325,"b":0.83,"n":-1.0},{"i":4335,"b":0.83,"n":-1.0},{"i":4345,"b":0.85,"n":-0.8},{"i":4355,"b":0.87,"n":-0.5},{"i":4365,"b":0.89,"n":-0.3},{"i":4375,"b":0.91,"n":0.0},{"i":4385,"b":0.94,"n":0.3},{"i":4395,"b":0.96,"n":0.5},
{"i":4405,"b":0.99,"n":0.8},{"i":4415,"b":1.01,"n":1.0},{"i":4425,"b":1.03,"n":1.2},{"i":4435,"b":1.05,"n":1.5},{"i":4445,"b":1.07,"n":1.6},{"i":4455,"b":1.09,"n":1.8},{"i":4465,"b":1.10,"n":1.9},{"i":4475,"b":1.12,"n":2.1},{"i":4485,"b":1.14,"n":2.2},{"i":4495,"b":1.15,"n":2.3},
{"i":4505,"b":1.17,"n":2.4},{"i":4525,"b":1.17,"n":2.3},{"i":4535,"b":1.13,"n":1.8},{"i":4545,"b":1.09,"n":1.3},{"i":4555,"b":1.05,"n":0.9},{"i":4565,"b":1.03,"n":0.7},{"i":4575,"b":1.03,"n":0.7},{"i":4585,"b":1.05,"n":1.0},{"i":4595,"b":1.07,"n":1.3},
{"i":4605,"b":1.09,"n":1.6},{"i":4615,"b":1.12,"n":1.9},{"i":4625,"b":1.12,"n":2.0},{"i":4635,"b":1.14,"n":2.0},{"i":4655,"b":1.11,"n":1.7},{"i":4665,"b":1.08,"n":1.3},{"i":4675,"b":1.06,"n":1.1},{"i":4685,"b":1.05,"n":1.0},{"i":4695,"b":1.04,"n":0.9},
{"i":4705,"b":1.03,"n":0.8},{"i":4715,"b":1.03,"n":0.7},{"i":4725,"b":1.04,"n":0.9},{"i":4735,"b":1.03,"n":0.8},{"i":4745,"b":1.03,"n":0.7},{"i":4755,"b":1.02,"n":0.9},{"i":4765,"b":1.03,"n":0.8},{"i":4775,"b":1.03,"n":0.7},{"i":4785,"b":1.03,"n":0.9},{"i":4795,"b":1.04,"n":0.8},
{"i":4805,"b":1.03,"n":0.8},{"i":4815,"b":1.05,"n":1.1},{"i":4825,"b":1.06,"n":1.2},{"i":4835,"b":1.06,"n":1.1},{"i":4845,"b":1.06,"n":1.3},{"i":4855,"b":1.07,"n":1.2},{"i":4865,"b":1.06,"n":1.3},{"i":4875,"b":1.06,"n":1.1},{"i":4895,"b":1.06,"n":1.2},
{"i":4905,"b":1.05,"n":1.1},{"i":4915,"b":1.06,"n":1.3},{"i":4925,"b":1.04,"n":1.0},{"i":4935,"b":1.03,"n":0.8},{"i":4945,"b":1.01,"n":0.6},{"i":4955,"b":1.00,"n":0.5},{"i":4965,"b":0.99,"n":0.4},{"i":4975,"b":0.97,"n":0.2},{"i":4985,"b":0.94,"n":-0.2},{"i":4995,"b":0.92,"n":-0.5}
]},
"vconcat": [
 {
  "width": 412, "height": 131,
  "title": {"text": "a)", "anchor": "start", "frame": "group", "dx": -44, "dy": 20, "offset": 0},
  "layer": [
   {"mark": {"type": "point", "filled": true, "size": 10, "color": "#0000ff", "opacity": 1},
    "encoding": {
     "x": {"field": "i", "type": "quantitative", "scale": {"domain": [0, 5000], "nice": false},
           "axis": {"values": [0,500,1000,1500,2000,2500,3000,3500,4000,4500,5000], "format": "d", "title": "Event Index", "labelPadding": 6, "titlePadding": 3}},
     "y": {"field": "b", "type": "quantitative", "scale": {"domain": [0.5, 1.55], "nice": false, "zero": false},
           "axis": {"values": [0.5, 1, 1.5], "format": "~g", "title": "b", "labelPadding": 4, "titlePadding": 1}}
    }},
   {"data": {"values": [{"e": 2845}]},
    "mark": {"type": "rule", "color": "#ff3b3b", "strokeWidth": 3},
    "encoding": {"x": {"field": "e", "type": "quantitative"}}}
  ]
 },
 {
  "width": 412, "height": 130,
  "title": {"text": "b)", "anchor": "start", "frame": "group", "dx": -44, "offset": 10},
  "layer": [
   {"mark": {"type": "point", "filled": true, "size": 10, "color": "#0000ff", "opacity": 1},
    "encoding": {
     "x": {"field": "i", "type": "quantitative", "scale": {"domain": [0, 5000], "nice": false},
           "axis": {"values": [0,500,1000,1500,2000,2500,3000,3500,4000,4500,5000], "format": "d", "title": "Event Index", "labelPadding": 6, "titlePadding": 3}},
     "y": {"field": "n", "type": "quantitative", "scale": {"domain": [-6.1, 6.1], "nice": false, "zero": false},
           "axis": {"values": [-5, 0, 5], "labelExpr": "datum.value + ''", "title": "Normalized b", "labelPadding": 4, "titlePadding": 1}}
    }},
   {"data": {"values": [{"e": 2845}]},
    "mark": {"type": "rule", "color": "#ff3b3b", "strokeWidth": 3},
    "encoding": {"x": {"field": "e", "type": "quantitative"}}}
  ]
 }
]
}
